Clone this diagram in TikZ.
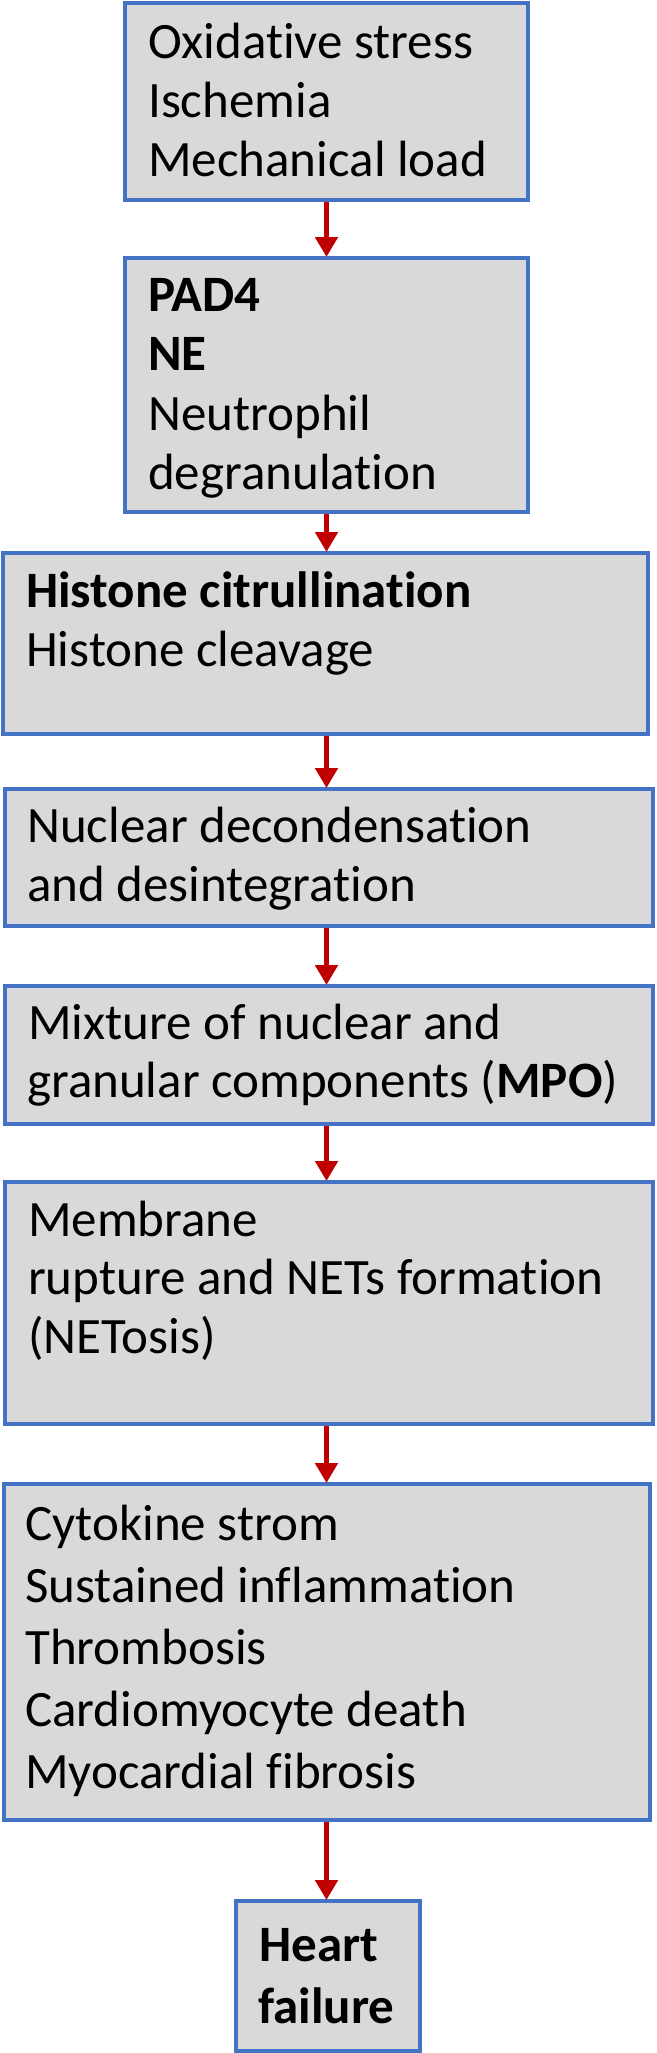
\documentclass[tikz,border=0pt]{standalone}
\usepackage{fontspec}
\setmainfont{Carlito}[Ligatures={NoCommon}]
\usetikzlibrary{arrows.meta}
\definecolor{bord}{HTML}{4472C4}
\definecolor{fillg}{HTML}{D9D9D9}
\definecolor{arr}{HTML}{C00000}
\begin{document}
\begin{tikzpicture}[x=1pt,y=-1pt,
  box/.style={draw=bord,fill=fillg,line width=4pt,inner sep=0pt},
  txt/.style={anchor=base west,inner sep=0pt,font=\fontsize{51}{60}\selectfont},
  flow/.style={draw=arr,line width=5.5pt,-{Triangle[length=20pt,width=22pt]},shorten >=-1pt}]
\useasboundingbox (0,0) rectangle (656,2053);
\node[box,minimum width=403pt,minimum height=197pt] (b1) at (326.5,101.5) {};
\node[box,minimum width=403pt,minimum height=254pt] (b2) at (326.5,385) {};
\node[box,minimum width=645pt,minimum height=181pt] (b3) at (325.5,643.5) {};
\node[box,minimum width=648pt,minimum height=137pt] (b4) at (328.5,857.5) {};
\node[box,minimum width=648pt,minimum height=138pt] (b5) at (328.5,1055) {};
\node[box,minimum width=648pt,minimum height=242pt] (b6) at (328.5,1303) {};
\node[box,minimum width=646pt,minimum height=336pt] (b7) at (327,1652) {};
\node[box,minimum width=184pt,minimum height=150pt] (b8) at (328,1976) {};
\node[txt] (t1a) at (148,58.6) {Oxidative stress};
\node[txt] (t1b) at (148,117) {Ischemia};
\node[txt] (t1c) at (148,176) {Mechanical load};
\node[txt] (t2a) at (148,311) {\bfseries PAD4};
\node[txt] (t2b) at (148,370) {\bfseries NE};
\node[txt] (t2c) at (148,430) {Neutrophil};
\node[txt] (t2d) at (148,489) {degranulation};
\node[txt] (t3a) at (26,607) {\bfseries Histone citrullination};
\node[txt] (t3b) at (26,666) {Histone cleavage};
\node[txt] (t4a) at (27,842) {Nuclear decondensation};
\node[txt] (t4b) at (27,901) {and desintegration};
\node[txt] (t5a) at (28,1039) {Mixture of nuclear and};
\node[txt] (t5b) at (27,1097) {granular components (\textbf{MPO})};
\node[txt] (t6a) at (28,1236) {Membrane};
\node[txt] (t6b) at (28,1294) {rupture and NETs formation};
\node[txt] (t6c) at (28,1353) {(NETosis)};
\node[txt] (t7a) at (25,1540) {Cytokine strom};
\node[txt] (t7b) at (25,1602) {Sustained inflammation};
\node[txt] (t7c) at (25,1664) {Thrombosis};
\node[txt] (t7d) at (25,1726) {Cardiomyocyte death};
\node[txt] (t7e) at (25,1788) {Myocardial fibrosis};
\node[txt] (t8a) at (259,1961) {\bfseries Heart};
\node[txt] (t8b) at (258,2023) {\bfseries failure};
\draw[flow] (b1.south) -- (b2.north);
\draw[flow] (b2.south) -- (b3.north -| b2.south);
\draw[flow] (b3.south -| b2.south) -- (b4.north -| b2.south);
\draw[flow] (b4.south -| b2.south) -- (b5.north -| b2.south);
\draw[flow] (b5.south -| b2.south) -- (b6.north -| b2.south);
\draw[flow] (b6.south -| b2.south) -- (b7.north -| b2.south);
\draw[flow] (b7.south -| b2.south) -- (b8.north -| b2.south);
\end{tikzpicture}
\end{document}
